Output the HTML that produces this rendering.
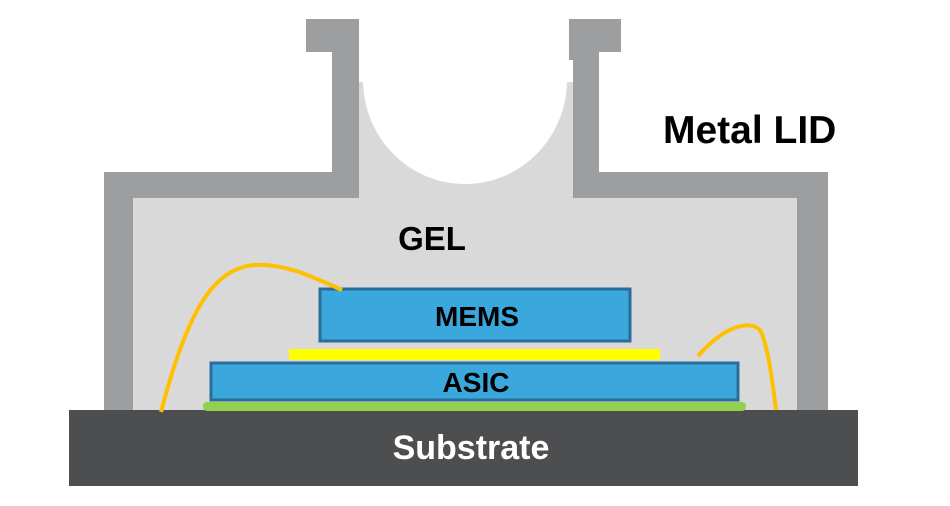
<!DOCTYPE html>
<html><head><style>html,body{margin:0;padding:0;background:#fff;}svg{display:block}</style></head>
<body>
<svg width="950" height="506" viewBox="0 0 950 506" xmlns="http://www.w3.org/2000/svg" font-family="Liberation Sans, sans-serif" font-weight="bold">
<!-- lid outer -->
<path d="M104,410 L104,172 L332,172 L332,52 L306,52 L306,19 L359,19 L359,80 L569,80 L569,19 L621,19 L621,52 L599,52 L599,172 L828,172 L828,410 Z" fill="#9d9ea0"/>
<!-- gel -->
<path d="M133,410 L133,198 L359,198 L359,77 L573,77 L573,198 L797,198 L797,410 Z" fill="#d9d9d9"/>
<!-- white bowl -->
<path d="M363,77 L363,80 A102,104 0 0 0 567,80 L567,77 Z" fill="#fff"/>
<rect x="359" y="19" width="210" height="58" fill="#fff"/>
<rect x="359" y="60" width="4" height="22" fill="#fff"/>
<rect x="567" y="60" width="6" height="22" fill="#fff"/>
<!-- substrate -->
<rect x="69" y="410" width="789" height="76" fill="#4d4e50"/>
<!-- green -->
<rect x="203" y="402" width="543" height="9" rx="4" fill="#92d050"/>
<!-- ASIC -->
<rect x="211" y="363" width="527" height="37" fill="#3aa8dc" stroke="#2a6d99" stroke-width="3"/>
<!-- yellow -->
<rect x="289" y="349" width="371" height="11" fill="#ffff00"/>
<!-- MEMS -->
<rect x="320" y="289" width="310" height="52" fill="#3aa8dc" stroke="#2a6d99" stroke-width="3"/>
<!-- wires -->
<path d="M161,412 C185,320 210,268 255,265 C285,263 315,278 342,290" fill="none" stroke="#ffc000" stroke-width="4"/>
<path d="M698,356 C725,325 750,320 760,330 C768,345 773,385 776,410" fill="none" stroke="#ffc000" stroke-width="4"/>
<text x="663" y="143" font-size="39" fill="#000">Metal LID</text>
<text x="432" y="250" font-size="33" fill="#000" text-anchor="middle">GEL</text>
<text x="477" y="326" font-size="28" fill="#000" text-anchor="middle">MEMS</text>
<text x="476" y="392" font-size="28" fill="#000" text-anchor="middle">ASIC</text>
<text x="471" y="459" font-size="34" fill="#fff" text-anchor="middle">Substrate</text>
</svg>
</body></html>
